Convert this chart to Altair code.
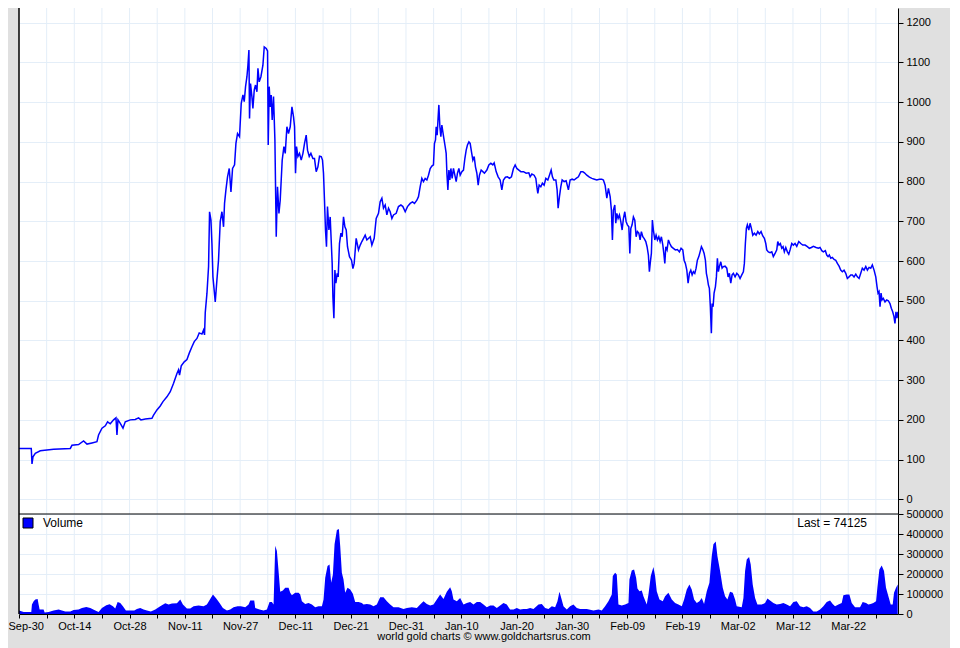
import altair as alt
import pandas as pd

# ---------------- data ----------------
# x index: trading-session index, labelled every 10 units
price_idx = [0.0, 2.22, 2.35, 2.53, 2.95, 3.85, 6.26, 9.28, 9.58, 10.78, 11.68, 12.30, 13.20, 14.10, 14.39,
             15.01, 15.61, 16.02, 16.51, 17.11, 17.54, 17.72, 17.90, 18.32, 18.81, 19.22, 20.13, 21.03, 21.63,
             22.06, 22.84, 24.05, 24.34, 24.95, 25.55, 26.04, 26.76, 27.36, 27.96, 28.57, 28.86, 29.04, 29.35,
             29.89, 30.38, 30.80, 31.28, 31.70, 32.19, 32.60, 33.09, 33.38, 33.56, 33.69, 34.00, 34.29, 34.47,
             34.72, 34.90, 35.08, 35.50, 35.80, 36.09, 36.40, 36.71, 37.00, 37.18, 37.43, 37.72, 38.03, 38.34,
             38.63, 38.99, 39.24, 39.53, 39.89, 40.20, 40.51, 40.74, 40.98, 41.23, 41.41, 41.59, 41.70, 41.88,
             42.13, 42.31, 42.55, 42.78, 43.04, 43.22, 43.45, 43.76, 44.12, 44.36, 44.72, 44.96, 45.08, 45.26,
             45.44, 45.62, 45.80, 46.04, 46.29, 46.53, 46.76, 47.02, 47.25, 47.61, 47.92, 48.16, 48.46, 48.75,
             49.06, 49.37, 49.66, 49.84, 50.02, 50.20, 50.45, 50.74, 51.05, 51.36, 51.65, 51.95, 52.19, 52.50,
             52.80, 53.16, 53.45, 53.76, 54.07, 54.36, 54.67, 54.90, 55.08, 55.26, 55.44, 55.62, 55.80, 56.06,
             56.29, 56.47, 56.65, 56.78, 56.96, 57.14, 57.32, 57.56, 57.74, 57.97, 58.23, 58.46, 58.70, 58.95,
             59.19, 59.42, 59.78, 60.15, 60.40, 60.63, 60.99, 61.41, 61.72, 62.02, 62.62, 62.93, 63.53, 63.83,
             64.25, 64.61, 65.03, 65.33, 65.64, 65.93, 66.24, 66.54, 66.84, 67.14, 67.45, 67.74, 68.23, 68.64,
             69.08, 69.44, 69.86, 70.27, 70.76, 71.18, 71.54, 71.97, 72.26, 72.57, 72.87, 73.16, 73.47, 73.78,
             74.07, 74.38, 74.68, 74.97, 75.15, 75.34, 75.46, 75.64, 75.82, 75.95, 76.13, 76.31, 76.49, 76.67,
             76.85, 77.09, 77.27, 77.40, 77.58, 77.76, 77.94, 78.12, 78.35, 78.59, 78.84, 79.08, 79.31, 79.57,
             79.80, 80.11, 80.40, 80.65, 80.89, 81.12, 81.38, 81.61, 81.85, 82.10, 82.34, 82.57, 82.82, 83.06,
             83.29, 83.60, 83.90, 84.19, 84.63, 84.99, 85.35, 85.71, 85.95, 86.31, 86.67, 87.03, 87.34, 87.63,
             87.99, 88.35, 88.72, 89.08, 89.44, 89.75, 90.05, 90.42, 90.78, 91.25, 91.74, 92.22, 92.46, 92.77,
             93.18, 93.49, 93.67, 93.85, 94.09, 94.39, 94.68, 94.99, 95.30, 95.66, 95.95, 96.26, 96.49, 96.74,
             97.11, 97.34, 97.52, 97.76, 98.01, 98.25, 98.61, 98.97, 99.38, 99.69, 100.05, 100.41, 100.78,
             101.19, 101.63, 101.99, 102.28, 102.71, 103.18, 103.62, 104.09, 104.52, 104.99, 105.42, 105.71,
             106.02, 106.33, 106.62, 106.93, 107.16, 107.34, 107.52, 107.77, 107.95, 108.14, 108.37, 108.61,
             108.86, 109.10, 109.33, 109.58, 109.82, 110.05, 110.31, 110.49, 110.67, 110.90, 111.14, 111.39,
             111.63, 111.86, 112.12, 112.35, 112.58, 112.84, 113.07, 113.38, 113.61, 113.85, 114.03, 114.21,
             114.39, 114.57, 114.75, 115.01, 115.24, 115.48, 115.73, 115.97, 116.20, 116.46, 116.64, 116.82,
             117.00, 117.23, 117.47, 117.72, 118.01, 118.37, 118.73, 119.10, 119.46, 119.76, 120.07, 120.31,
             120.54, 120.80, 121.03, 121.27, 121.52, 121.76, 121.99, 122.24, 122.48, 122.71, 122.97, 123.20,
             123.44, 123.69, 123.93, 124.16, 124.34, 124.52, 124.70, 124.88, 125.06, 125.24, 125.37, 125.55,
             125.73, 125.97, 126.15, 126.33, 126.51, 126.69, 126.94, 127.18, 127.41, 127.72, 128.03, 128.26,
             128.50, 128.75, 128.99, 129.22, 129.53, 129.84, 130.12, 130.43, 130.74, 131.03, 131.21, 131.39,
             131.57, 131.75, 132.01, 132.24, 132.48, 132.73, 133.02, 133.33, 133.64, 133.92, 134.23, 134.54,
             134.83, 135.08, 135.26, 135.55, 135.86, 136.17, 136.45, 136.76, 137.07, 137.25, 137.48, 137.72,
             137.97, 138.21, 138.44, 138.70, 138.99, 139.24, 139.48, 139.78, 140.07, 140.38, 140.69, 141.05,
             141.41, 141.77, 142.19, 142.61, 142.97, 143.33, 143.69, 144.18, 144.60, 144.90, 145.21, 145.50,
             145.86, 146.11, 146.35, 146.58, 146.84, 147.13, 147.44, 147.74, 148.03, 148.34, 148.64, 148.93,
             149.24, 149.55, 149.84, 150.14, 150.45, 150.74, 151.05, 151.36, 151.65, 151.96, 152.26, 152.55,
             152.86, 153.17, 153.46, 153.77, 154.07, 154.36, 154.67, 154.98, 155.21, 155.39, 155.57, 155.75,
             155.93, 156.11, 156.34, 156.65, 156.96, 157.25, 157.55, 157.79, 158.04, 158.27, 158.45, 158.63,
             158.81, 158.99]

price_val = [128, 128, 89, 107, 116, 122, 126, 128, 136, 138, 147, 139, 142, 145, 162,
             179, 185, 195, 190, 200, 205, 162, 200, 191, 179, 195, 200, 201, 205,
             200, 202, 204, 212, 225, 235, 246, 258, 271, 292, 317, 326, 313, 336,
             346, 352, 368, 384, 397, 405, 419, 416, 426, 414, 470, 519, 586, 724,
             703, 644, 560, 497, 552, 602, 699, 724, 686, 745, 779, 812, 833, 774,
             833, 842, 896, 921, 913, 997, 1018, 1001, 1039, 1064, 1093, 1131, 959, 1047,
             1014, 984, 1030, 1043, 1026, 1085, 1051, 1064, 1093, 1139, 1135, 1129, 892, 1039,
             988, 1018, 955, 1014, 905, 661, 787, 720, 753, 854, 888, 871, 938, 921,
             938, 988, 963, 938, 821, 888, 863, 871, 854, 871, 896, 917, 879, 863,
             871, 858, 858, 825, 837, 864, 863, 854, 821, 753, 678, 636, 737, 678,
             711, 653, 594, 510, 456, 577, 544, 569, 560, 644, 670, 661, 711, 686,
             678, 636, 611, 602, 581, 594, 657, 628, 640, 649, 665, 653, 661, 640,
             657, 707, 720, 749, 758, 733, 741, 716, 733, 724, 707, 716, 720, 737,
             741, 737, 724, 737, 745, 749, 745, 753, 762, 787, 808, 800, 808, 804,
             816, 833, 839, 842, 896, 905, 938, 917, 963, 993, 938, 913, 942, 925,
             909, 888, 871, 821, 779, 829, 804, 833, 808, 833, 816, 800, 821, 833,
             816, 825, 829, 858, 879, 892, 900, 896, 875, 854, 863, 837, 821, 791,
             816, 829, 825, 821, 829, 842, 846, 842, 847, 825, 812, 804, 779, 804,
             811, 812, 808, 812, 833, 842, 833, 829, 825, 825, 821, 822, 812, 819,
             816, 808, 787, 770, 791, 787, 796, 791, 808, 804, 816, 829, 812, 804,
             804, 779, 733, 762, 787, 804, 800, 802, 779, 804, 806, 804, 808,
             812, 825, 825, 822, 816, 811, 808, 806, 804, 806, 806, 804,
             791, 758, 783, 762, 728, 653, 728, 741, 695, 720, 707, 716,
             699, 678, 707, 724, 699, 691, 686, 619, 682, 691, 711, 703,
             661, 674, 670, 653, 674, 661, 657, 649, 636, 615, 573, 598,
             619, 703, 678, 653, 665, 653, 661, 649, 661, 640, 619, 594,
             636, 628, 653, 644, 636, 632, 628, 629, 623, 632, 628, 602,
             594, 577, 544, 569, 577, 565, 573, 569, 582, 602, 611, 623,
             636, 629, 619, 602, 569, 556, 540, 531, 485, 418, 493, 485,
             519, 535, 560, 607, 573, 586, 598, 582, 586, 587, 582, 560,
             569, 544, 565, 569, 560, 569, 565, 556, 565, 573, 594, 644,
             682, 691, 678, 695, 682, 665, 670, 665, 674, 668, 674, 663,
             657, 644, 628, 623, 621, 623, 611, 619, 628, 649, 640, 644,
             632, 636, 623, 634, 623, 617, 628, 644, 640, 644, 637, 649,
             644, 640, 640, 636, 632, 634, 637, 634, 632, 634, 626, 623,
             626, 615, 611, 615, 607, 609, 604, 602, 594, 587, 577, 573,
             577, 569, 556, 560, 565, 565, 560, 567, 560, 556, 569, 582,
             577, 586, 577, 584, 582, 590, 577, 560, 535, 519, 523, 485,
             519, 502, 506, 497, 502, 500, 493, 481, 472, 460, 443, 472,
             456, 472]

vol_idx = [0.00, 0.84, 2.22, 2.34, 2.65, 2.95, 3.37, 3.55, 3.73, 4.45, 4.64, 5.36, 6.26, 7.17, 7.77,
           8.37, 9.28, 9.88, 10.78, 11.39, 12.17, 12.89, 13.80, 14.40, 15.00, 15.79, 16.39, 16.99, 17.41,
           17.84, 18.32, 18.80, 19.34, 20.13, 20.85, 21.33, 21.93, 22.54, 23.14, 23.86, 24.65, 25.55, 26.46,
           27.06, 27.66, 28.57, 29.17, 29.65, 30.37, 30.98, 31.58, 32.48, 33.39, 33.99, 34.59, 35.08, 35.68,
           36.28, 36.88, 37.61, 38.21, 38.81, 39.54, 40.14, 40.92, 41.53, 41.83, 42.55, 42.73, 43.51, 44.24,
           44.84, 45.32, 45.74, 46.05, 46.35, 46.65, 46.95, 47.25, 47.73, 48.16, 48.76, 49.06, 49.36, 49.96,
           50.57, 50.87, 51.17, 51.77, 52.38, 52.98, 53.58, 54.18, 54.79, 55.09, 55.39, 55.81, 56.17, 56.47,
           56.78, 57.08, 57.50, 57.86, 58.10, 58.40, 58.70, 59.00, 59.43, 59.91, 60.39, 60.81, 61.42, 62.02,
           62.32, 62.92, 63.53, 64.13, 64.73, 65.33, 65.94, 66.54, 67.14, 67.75, 68.65, 69.55, 70.16, 71.06,
           71.96, 72.57, 73.17, 73.77, 74.38, 74.98, 75.58, 76.18, 76.79, 77.39, 77.99, 78.29, 78.59, 79.20,
           79.80, 80.40, 81.01, 81.61, 82.21, 82.81, 83.42, 84.02, 84.62, 85.23, 85.83, 86.43, 87.03, 87.64,
           88.24, 88.84, 89.44, 90.05, 90.65, 91.25, 91.86, 92.46, 93.06, 93.97, 94.57, 95.17, 95.77, 96.38,
           96.98, 97.40, 97.76, 98.00, 98.49, 99.09, 99.69, 100.29, 100.90, 101.50, 102.71, 103.91, 104.82,
           105.42, 106.02, 106.62, 107.23, 107.41, 107.83, 108.13, 108.43, 109.03, 109.64, 110.24, 110.42,
           110.84, 111.26, 111.63, 111.87, 112.23, 112.65, 112.95, 113.55, 113.86, 114.28, 114.76, 115.06,
           115.36, 115.85, 116.45, 116.87, 117.47, 118.08, 118.68, 119.28, 119.89, 120.31, 120.79, 121.27,
           121.69, 122.12, 122.60, 123.08, 123.50, 123.92, 124.41, 124.89, 125.31, 125.61, 126.03, 126.33,
           126.82, 127.30, 127.72, 128.14, 128.62, 129.11, 129.53, 129.83, 130.73, 131.04, 131.34, 131.64,
           132.06, 132.36, 132.72, 133.15, 133.57, 134.35, 134.95, 135.38, 135.86, 136.46, 137.06, 137.67,
           138.27, 138.87, 139.47, 140.08, 140.68, 141.28, 141.89, 142.49, 143.09, 143.69, 144.30, 144.90,
           145.50, 146.11, 146.71, 147.19, 147.61, 148.22, 148.82, 149.12, 149.72, 150.20, 150.63, 151.23,
           152.13, 152.61, 153.22, 153.64, 154.06, 154.54, 155.03, 155.27, 155.63, 156.05, 156.47, 156.83,
           157.26, 157.68, 158.04, 158.28, 158.64, 158.95]

vol_val = [17000, 10000, 10000, 47000, 64000, 72000, 75000, 47000, 22000, 22000, 8000, 10000, 17000, 22000, 17000,
           13000, 13000, 20000, 22000, 30000, 35000, 30000, 17000, 10000, 30000, 44000, 49000, 39000, 27000,
           60000, 55000, 39000, 17000, 17000, 17000, 25000, 30000, 22000, 17000, 13000, 22000, 39000, 54000,
           47000, 52000, 54000, 72000, 47000, 27000, 27000, 39000, 42000, 39000, 47000, 75000, 97000, 77000,
           55000, 30000, 17000, 22000, 34000, 39000, 39000, 34000, 47000, 67000, 67000, 30000, 22000, 17000,
           22000, 60000, 60000, 47000, 341000, 315000, 215000, 111000, 117000, 131000, 131000, 106000, 94000, 106000,
           106000, 97000, 64000, 50000, 55000, 47000, 34000, 39000, 39000, 72000, 181000, 240000, 248000, 156000,
           198000, 349000, 420000, 425000, 341000, 206000, 173000, 106000, 131000, 122000, 101000, 60000, 60000, 55000,
           47000, 50000, 47000, 39000, 47000, 84000, 84000, 64000, 47000, 34000, 34000, 25000, 30000, 34000,
           30000, 47000, 64000, 50000, 42000, 47000, 72000, 97000, 75000, 111000, 134000, 114000, 72000, 64000,
           80000, 47000, 55000, 60000, 47000, 60000, 60000, 47000, 34000, 42000, 42000, 30000, 42000, 55000,
           47000, 22000, 22000, 30000, 22000, 25000, 25000, 30000, 25000, 47000, 50000, 30000, 25000, 39000,
           34000, 64000, 111000, 89000, 39000, 22000, 39000, 47000, 30000, 25000, 25000, 17000, 22000,
           17000, 39000, 64000, 97000, 190000, 206000, 198000, 47000, 42000, 47000, 55000, 173000,
           218000, 223000, 181000, 128000, 114000, 117000, 89000, 47000, 97000, 190000, 235000, 190000,
           114000, 72000, 64000, 89000, 106000, 72000, 55000, 47000, 39000, 72000, 122000, 148000,
           122000, 72000, 55000, 64000, 80000, 50000, 114000, 156000, 290000, 349000, 362000, 290000,
           215000, 131000, 89000, 72000, 111000, 106000, 72000, 39000, 34000, 80000, 215000, 273000,
           285000, 248000, 148000, 80000, 47000, 47000, 55000, 77000, 67000, 55000, 47000, 50000,
           55000, 47000, 39000, 60000, 64000, 39000, 34000, 39000, 30000, 13000, 13000, 22000,
           39000, 60000, 67000, 50000, 39000, 47000, 55000, 94000, 97000, 97000, 55000, 34000,
           34000, 60000, 55000, 47000, 50000, 55000, 64000, 131000, 223000, 243000, 215000, 131000,
           89000, 47000, 47000, 106000, 131000, 148000]

tick_labels = ["Sep-30", "Oct-14", "Oct-28", "Nov-11", "Nov-27", "Dec-11", "Dec-21", "Dec-31",
               "Jan-10", "Jan-20", "Jan-30", "Feb-09", "Feb-19", "Mar-02", "Mar-12", "Mar-22"]
price_ticks = [0, 100, 200, 300, 400, 500, 600, 700, 800, 900, 1000, 1100, 1200]
volume_ticks = [0, 100000, 200000, 300000, 400000, 500000]
x_ticks = list(range(0, 160, 5))

# ---------------- chart ----------------
W, H = 879, 606
PRICE_H = 506
FONT = "Liberation Sans"
BLUE = "#0000ff"
GRID = "#e4eef8"

price_df = pd.DataFrame({"idx": price_idx, "price": price_val})
vol_df = pd.DataFrame({"idx": vol_idx, "volume": vol_val})
grid_df = pd.DataFrame({"idx": x_ticks[1:]})

label_array = "[" + ",".join("'" + t + "'" for t in tick_labels) + "]"
x_axis = alt.Axis(
    values=x_ticks,
    labelExpr=f"datum.value % 10 === 0 ? {label_array}[datum.value / 10] : ''",
    grid=False, tickSize=4, labelPadding=2, title=None,
    labelFont=FONT, labelFontSize=11, labelColor="black",
    domainColor="black", tickColor="black",
    labelAlign={"condition": {"test": "datum.value === 0", "value": "left"}, "value": "center"},
    labelOffset={"condition": {"test": "datum.value === 0", "value": -11}, "value": 0},
)
x_scale = alt.Scale(domain=[0, 159], nice=False, zero=False)
x_enc = alt.X("idx:Q", scale=x_scale, axis=x_axis)

vgrid = alt.Chart(grid_df).mark_rule(color=GRID, strokeWidth=1).encode(
    x=x_enc, y=alt.value(0), y2=alt.value(H))

price = alt.Chart(price_df).mark_line(color=BLUE, strokeWidth=1.5, clip=True).encode(
    x=x_enc,
    y=alt.Y("price:Q",
            scale=alt.Scale(domain=[-37, 1237], range=[PRICE_H, 0], nice=False, zero=False),
            axis=alt.Axis(orient="right", values=price_ticks, format="d", grid=True, gridColor=GRID,
                          tickSize=5, labelPadding=3, title=None, labelFont=FONT,
                          labelFontSize=11, labelColor="black", domainColor="black",
                          tickColor="black")),
)

volume = alt.Chart(vol_df).mark_area(color=BLUE, opacity=1).encode(
    x=x_enc,
    y=alt.Y("volume:Q",
            scale=alt.Scale(domain=[0, 500000], range=[H, PRICE_H], nice=False),
            axis=alt.Axis(orient="right", values=volume_ticks, format="d", grid=True,
                          gridColor=GRID, tickSize=5, labelPadding=3, title=None,
                          labelFont=FONT, labelFontSize=11, labelColor="black",
                          domainColor="black", tickColor="black")),
)

one = pd.DataFrame({"a": [0]})
sep = alt.Chart(one).mark_rule(color="black", strokeWidth=1.2).encode(
    x=alt.value(0), x2=alt.value(W), y=alt.value(PRICE_H))
left_border = alt.Chart(one).mark_rule(color="black", strokeWidth=1.5).encode(
    x=alt.value(0), y=alt.value(0), y2=alt.value(H))

legend_box = alt.Chart(one).mark_rect(
    fill=BLUE, stroke="black", strokeWidth=1).encode(
    x=alt.value(4), x2=alt.value(14), y=alt.value(510), y2=alt.value(520))

legend_txt = alt.Chart(pd.DataFrame({"t": ["Volume"]})).mark_text(
    align="left", baseline="middle", font=FONT, fontSize=12, color="black").encode(
    text="t:N", x=alt.value(24), y=alt.value(515))

last_txt = alt.Chart(pd.DataFrame({"t": ["Last = 74125"]})).mark_text(
    align="right", baseline="middle", font=FONT, fontSize=12, color="black").encode(
    text="t:N", x=alt.value(848), y=alt.value(515))

footer = alt.Chart(pd.DataFrame({"t": ["world gold charts \u00a9 www.goldchartsrus.com"]})).mark_text(
    align="center", baseline="middle", font=FONT, fontSize=11, color="black").encode(
    text="t:N", x=alt.value(465), y=alt.value(629))

chart = alt.layer(vgrid, volume, price, sep, left_border, legend_box, legend_txt, last_txt,
                  footer).resolve_scale(
    y="independent"
).properties(
    width=W, height=H,
    autosize=alt.AutoSizeParams(type="none"),
    padding={"left": 11, "top": 0, "right": 52, "bottom": 34},
    background="#e0e0e0",
).configure_view(
    fill="white", strokeWidth=0
)

chart.save("out.html", embed_options={"renderer": "svg", "actions": False})
